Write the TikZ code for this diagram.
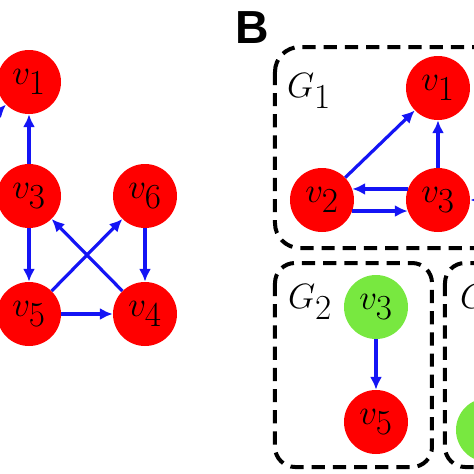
\RequirePackage{fix-cm}
\documentclass[tikz,border=0pt]{standalone}
\usepackage{fontspec}
\newfontfamily\panelfont{Liberation Sans}
\usetikzlibrary{positioning,arrows.meta}
\definecolor{nodered}{RGB}{255,0,0}
\definecolor{nodegreen}{RGB}{120,232,64}
\definecolor{edgeblue}{RGB}{20,20,245}
\tikzset{>={Latex[length=0.32cm,width=0.3cm]}}
\tikzset{
  vtx/.style={circle, minimum size=1.6cm, inner sep=0pt, font=\fontsize{25}{25}\selectfont},
  vred/.style={vtx, fill=nodered},
  vgreen/.style={vtx, fill=nodegreen},
  link/.style={->, draw=edgeblue, line width=0.08cm},
  grp/.style={draw, line width=0.1cm, dash pattern=on 0.33cm off 0.2cm, rounded corners=0.62cm},
  glabel/.style={font=\fontsize{25}{25}\selectfont}
}

\begin{document}
\begin{tikzpicture}
      \useasboundingbox (0,0) rectangle (11.85,-11.85);
      \clip (0,0) rectangle (11.85,-11.85);
      % left graph
      \node[vred] (a1) at (0.725,-2.05) {$v_{\textstyle 1}$};
      \node[vred, below of=a1, node distance=2.85cm] (a3) {$v_{\textstyle 3}$};
      \node[vred, below of=a3, node distance=2.95cm] (a5) {$v_{\textstyle 5}$};
      \node[vred, right of=a3, node distance=2.9cm] (a6) {$v_{\textstyle 6}$};
      \node[vred, below of=a6, node distance=2.95cm] (a4) {$v_{\textstyle 4}$};
      \coordinate[left of=a3, node distance=2.9cm] (aux1);
      \draw[link] (aux1) -- (a1);
      \draw[link] (a3) -- (a1);
      \draw[link] (a3) -- (a5);
      \draw[link] (a6) -- (a4);
      \draw[link] (a5) -- (a4);
      \draw[link] (a5) -- (a6);
      \draw[link] (a4) -- (a3);
      % panel B
      \node[font=\panelfont\bfseries\fontsize{33}{33}\selectfont] (lblB) at (6.3,-0.7) {B};
      % G1
      \draw[grp] (6.875,-1.175) rectangle (14.2,-6.2);
      \node[glabel] (g1) at (7.725,-2.275) {$G_{\textstyle 1}$};
      \node[vred] (b2) at (8.05,-5) {$v_{\textstyle 2}$};
      \node[vred, right of=b2, node distance=2.9cm] (b3) {$v_{\textstyle 3}$};
      \node[vred, above of=b3, node distance=2.8cm] (b1) {$v_{\textstyle 1}$};
      \coordinate[right of=b3, node distance=2.9cm] (aux2);
      \draw[link] (b2) -- (b1);
      \draw[link] (b3) -- (b1);
      \draw[link] (b3.160) -- (b2.20);
      \draw[link] (b2.-20) -- (b3.200);
      \draw[link] (aux2) -- (b3);
      % G2
      \draw[grp, rounded corners=0.5cm] (6.875,-6.575) rectangle (10.8,-11.675);
      \node[glabel] (g2) at (7.75,-7.55) {$G_{\textstyle 2}$};
      \node[vgreen] (c3) at (9.4,-7.675) {$v_{\textstyle 3}$};
      \node[vred, below of=c3, node distance=2.875cm] (c5) {$v_{\textstyle 5}$};
      \draw[link] (c3) -- (c5);
      % G3
      \draw[grp, rounded corners=0.5cm] (11.125,-6.575) rectangle (14.5,-11.675);
      \node[glabel] (g3) at (12.05,-7.55) {$G_{\textstyle 3}$};
      \node[vgreen] (d1) at (12.2,-10.75) {};
    \end{tikzpicture}
\end{document}
